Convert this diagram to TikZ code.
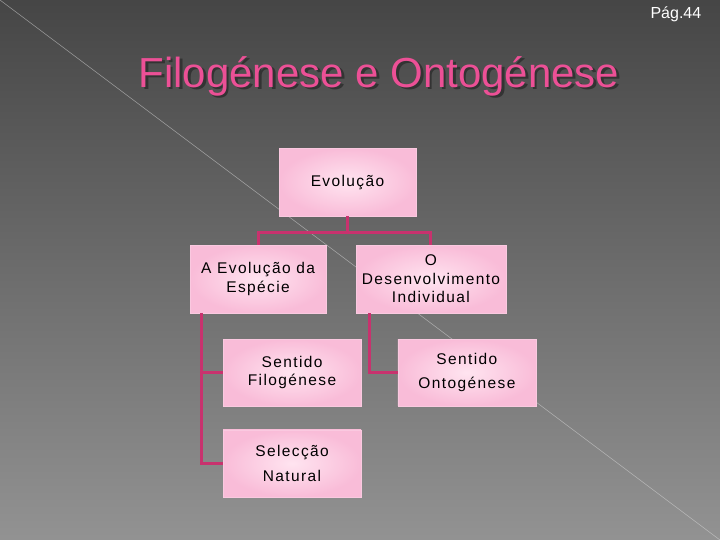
\documentclass[tikz,border=0pt]{standalone}
\usepackage{fontspec}
\setmainfont{Liberation Sans}
\newfontfamily\spaced[LetterSpace=9]{Liberation Sans}
\definecolor{conn}{RGB}{200,50,110}
\definecolor{pinkout}{RGB}{249,188,216}
\definecolor{pinkin}{RGB}{255,228,240}
\definecolor{titlepink}{RGB}{236,80,150}
\begin{document}
\begin{tikzpicture}[x=1pt,y=-1pt,
  box/.style={draw=pinkout!80!white,line width=0.6pt,inner color=pinkin,outer color=pinkout,
    text=black,align=center,inner sep=0pt},
  tight/.style={font=\spaced\fontsize{15.5}{18.5}\selectfont},
  loose/.style={font=\spaced\fontsize{15.5}{25}\selectfont},
  link/.style={conn,line width=3pt}]
\shade[left color=black!75,right color=black!45,shading angle=0] (0,0) rectangle (720,540);
\shade[top color=black!70,bottom color=black!40,opacity=0.5] (0,0) rectangle (720,540);
\draw[white!70!gray,line width=0.5pt,opacity=0.6] (0,0) -- (720,540);
\useasboundingbox (0,0) rectangle (720,540);
\node[white,font=\fontsize{16}{18}\selectfont,anchor=north east] (pag) at (705,3) {Pág.44};
\node[black!80,font=\fontsize{42}{48}\selectfont] (tsh) at (381.5,78.5) {Filogénese e Ontogénese};
\node[titlepink,font=\fontsize{42}{48}\selectfont] (title) at (379,76) {Filogénese e Ontogénese};
\node[box,tight,minimum width=137,minimum height=68] (evo) at (347.5,182) {Evolução};
\node[box,tight,minimum width=136,minimum height=68] (esp) at (258,279) {A Evolução da\\Espécie};
\node[box,tight,minimum width=150,minimum height=68] (des) at (431,279) {O\\Desenvolvimento\\Individual};
\node[box,tight,minimum width=138,minimum height=67] (fil) at (292,372.5) {Sentido\\Filogénese};
\node[box,loose,minimum width=138,minimum height=67] (sel) at (292,463.5) {Selecção\\Natural};
\node[box,loose,minimum width=138,minimum height=67] (ont) at (467,372.5) {Sentido\\Ontogénese};
\coordinate (j) at (347.5,232);
\draw[link] (evo.south) -- (j);
\draw[link] (esp.north) |- (j) -| (des.north);
\draw[link] ([xshift=-57pt]esp.south) |- (fil.west);
\draw[link] ([xshift=-57pt]esp.south) |- (sel.west);
\draw[link] ([xshift=-61pt]des.south) |- (ont.west);
\end{tikzpicture}
\end{document}
